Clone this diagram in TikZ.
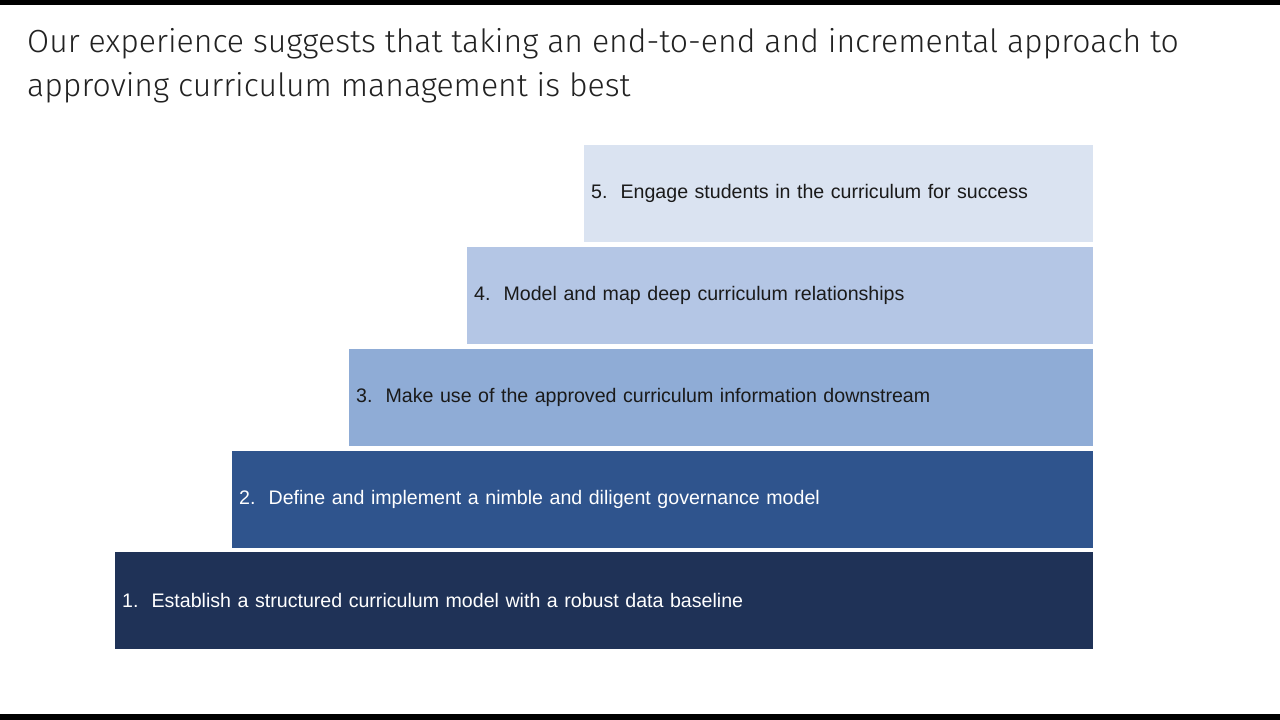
\documentclass[tikz,border=0pt]{standalone}
\usepackage{fontspec}
\setmainfont{Liberation Sans}
\newfontfamily\titlefont{Fira Sans Light}
\definecolor{barblack}{HTML}{000000}
\definecolor{stepa}{HTML}{1F3257}
\definecolor{stepb}{HTML}{2F548D}
\definecolor{stepc}{HTML}{8FACD6}
\definecolor{stepd}{HTML}{B4C6E5}
\definecolor{stepe}{HTML}{DAE3F1}
\definecolor{darktext}{HTML}{1A1A1A}
\definecolor{titlegray}{HTML}{222222}
\begin{document}
\begin{tikzpicture}[x=1pt,y=-1pt,
  stepbox/.style={rectangle, anchor=north west, minimum height=97pt, inner xsep=7pt, inner ysep=0pt, align=left,
    font=\fontsize{19.6}{22}\selectfont},
  titletext/.style={anchor=base west, inner sep=0pt, text=titlegray, font=\titlefont\fontsize{32}{40}\selectfont},
]
\useasboundingbox (0,0) rectangle (1280,720);
\fill[white] (0,0) rectangle (1280,720);
\fill[barblack] (0,0) rectangle (1280,5);
\fill[barblack] (0,714) rectangle (1280,720);
\node[titletext] (title1) at (27,52) {Our experience suggests that taking an end-to-end and incremental approach to};
\node[titletext] (title2) at (27,96) {approving curriculum management is best};
\node[stepbox, fill=stepe, text=darktext, minimum width=509pt, text width=495pt] (s5) at (584,145) {\raisebox{-2pt}{5.\ \ Engage students in the curriculum for success}};
\node[stepbox, fill=stepd, text=darktext, minimum width=626pt, text width=612pt] (s4) at (467,247) {\raisebox{-2pt}{4.\ \ Model and map deep curriculum relationships}};
\node[stepbox, fill=stepc, text=darktext, minimum width=744pt, text width=730pt] (s3) at (349,349) {\raisebox{-2pt}{3.\ \ Make use of the approved curriculum information downstream}};
\node[stepbox, fill=stepb, text=white, minimum width=861pt, text width=847pt] (s2) at (232,451) {\raisebox{-2pt}{2.\ \ Define and implement a nimble and diligent governance model}};
\node[stepbox, fill=stepa, text=white, minimum width=978pt, text width=964pt] (s1) at (115,552) {\raisebox{-2pt}{1.\ \ Establish a structured curriculum model with a robust data baseline}};
\end{tikzpicture}
\end{document}
